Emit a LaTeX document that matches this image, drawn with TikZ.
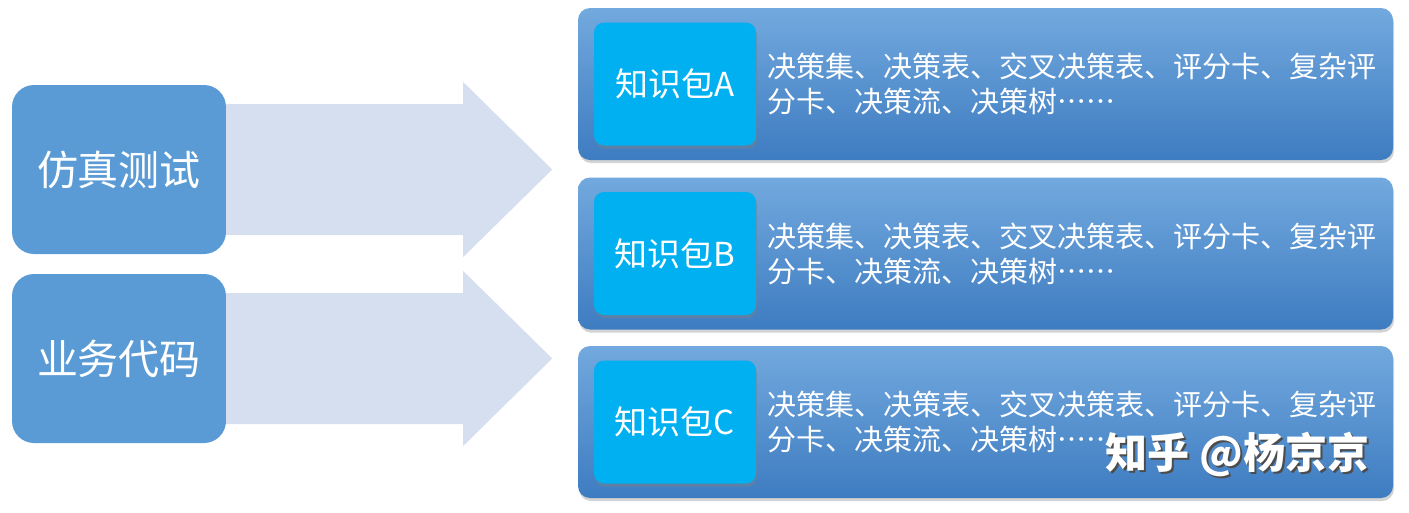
\documentclass[tikz,border=0pt]{standalone}
\usepackage{fontspec}
\setmainfont[Script=CJK,Language=Chinese Simplified]{Noto Sans CJK SC}
\usetikzlibrary{positioning,shadows}

\definecolor{srcblue}{HTML}{5B9BD5}
\definecolor{flowgray}{HTML}{D6DFF0}
\definecolor{packtop}{HTML}{72A9DE}
\definecolor{packbot}{HTML}{3E7CC1}
\definecolor{tagcyan}{HTML}{00B0F0}

\def\bodyh{65.5pt}
\def\headh{87.5pt}

\begin{document}
\begin{tikzpicture}[
    x=1pt,y=-1pt,
    srcbox/.style={rectangle,rounded corners=22pt,fill=srcblue,text=white,
        minimum width=214pt,minimum height=169pt,inner sep=0pt,
        font=\fontsize{41}{48}\selectfont},
    flow/.style={fill=flowgray},
    pack/.style={rectangle,rounded corners=12pt,top color=packtop,bottom color=packbot,
        minimum width=815pt,minimum height=152pt,inner sep=0pt,
        drop shadow={shadow xshift=1pt,shadow yshift=-3pt,opacity=0.35}},
    tag/.style={rectangle,rounded corners=10pt,fill=tagcyan,text=white,
        minimum width=162pt,minimum height=123pt,inner sep=0pt,
        font=\fontsize{33}{40}\selectfont,
        drop shadow={shadow xshift=1pt,shadow yshift=-3pt,opacity=0.45}},
    desc/.style={align=left,text=white,inner sep=0pt,
        font=\fontsize{29}{35}\selectfont},
    wmark/.style={text=white,inner sep=0pt,font=\bfseries\fontsize{42}{48}\selectfont},
]
\useasboundingbox (0,0) rectangle (1409,512);

%% Source boxes on the left
\node[srcbox] (sim) at (119,169.5) {仿真测试};
\node[srcbox] (biz) at (119,358.5) {业务代码};

% Big arrows starting at the boxes
\foreach \s in {sim,biz} {
    \fill[flow] ([yshift=\bodyh]\s.east) -- ++(237pt,0pt) -- ++(0pt,22pt)
        -- ++(89pt,-\headh) -- ++(-89pt,-\headh) -- ++(0pt,22pt)
        -- ([yshift=-\bodyh]\s.east) -- cycle;
}

%% Knowledge packages on the right
\foreach \k/\y in {A/84,B/253.5,C/422} {
    \node[pack] (p\k) at (985.5,\y) {};
    \node[tag,anchor=west] (t\k) at ([xshift=16pt]p\k.west) {知识包\k};
    \node[desc,anchor=west] (d\k) at ([xshift=11pt]t\k.east)
        {决策集、决策表、交叉决策表、评分卡、复杂评\\分卡、决策流、决策树……};
}

% Watermark with its shadow
\node[wmark,text=black!70,anchor=east] (wms) at ([xshift=-22pt,yshift=-34pt]pC.east) {知乎 @杨京京};
\node[wmark,anchor=east] (wm) at ([xshift=-2pt,yshift=2pt]wms.east) {知乎 @杨京京};
\end{tikzpicture}
\end{document}
